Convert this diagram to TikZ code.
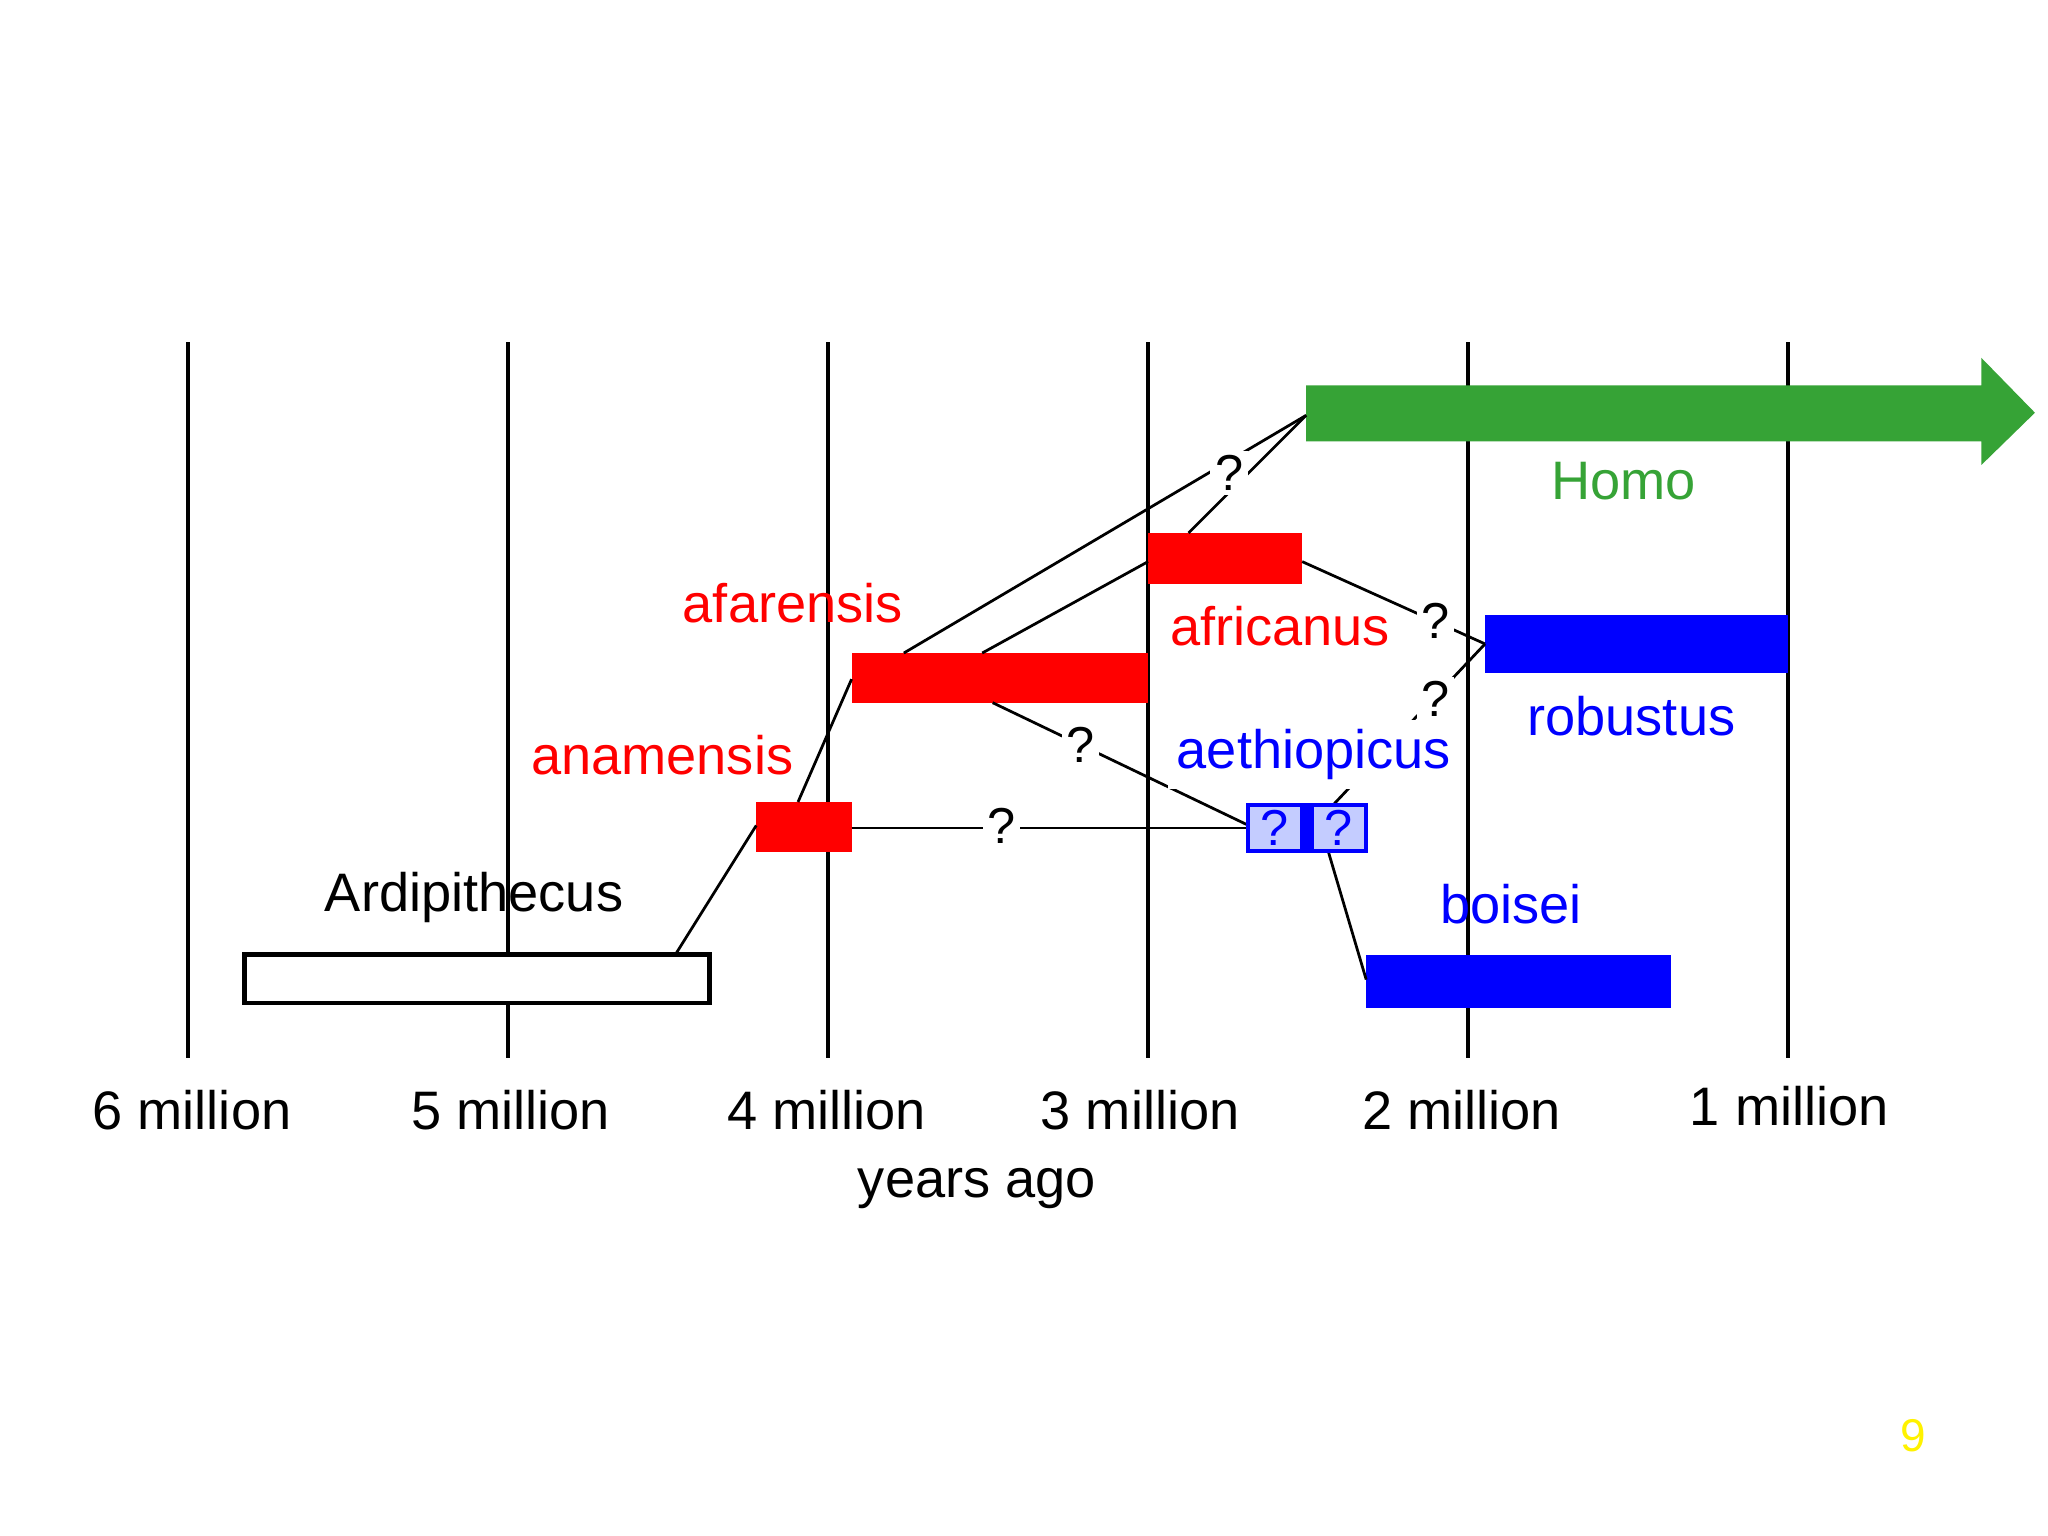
\documentclass[tikz,border=0pt]{standalone}
\usepackage{fontspec}
\setmainfont{Liberation Sans}
\definecolor{hgreen}{HTML}{36A336}
\definecolor{lblue}{HTML}{C4CCFF}
\begin{document}
\begin{tikzpicture}[x=0.01cm,y=-0.01cm,
  lab/.style={font=\fontsize{11.8}{14}\selectfont,inner sep=0pt},
  bar/.style={draw=none,inner sep=0pt,outer sep=0pt,anchor=north west},
  q/.style={font=\fontsize{11}{12}\selectfont,fill=white,inner sep=1pt},
  ln/.style={black,line width=0.6pt}]
\useasboundingbox (0,0) rectangle (1568,1176);
\fill[white] (0,0) rectangle (1568,1176);
% vertical lines
\foreach \x/\n in {144/a,389/b,634/c,879/d,1124/e,1369/f}{
  \coordinate (t\n) at (\x,262); \coordinate (b\n) at (\x,810);
  \draw[line width=1pt] (t\n) -- (b\n);}
% Homo arrow
\fill[hgreen] (1000,295) -- (1517,295) -- (1517,274) -- (1558,316) -- (1517,356) -- (1517,338) -- (1000,338) -- cycle;
\coordinate (homo) at (1000,318);
\node[lab,text=hgreen] (lhomo) at (1243,368) {Homo};
% bars
\node[bar,fill=red,minimum width=1.18cm,minimum height=0.39cm] (afri) at (879,408) {};
\node[bar,fill=red,minimum width=2.27cm,minimum height=0.38cm] (afar) at (652,500) {};
\node[bar,fill=red,minimum width=0.73cm,minimum height=0.38cm] (anam) at (579,614) {};
\node[bar,fill=blue,minimum width=2.32cm,minimum height=0.44cm] (robu) at (1137,471) {};
\node[bar,fill=blue,minimum width=2.33cm,minimum height=0.41cm] (bois) at (1046,731) {};
\node[bar,draw=black,line width=1pt,fill=white,minimum width=3.56cm,minimum height=0.37cm] (ardi) at (187,731) {};
% connectors
\coordinate (p1) at (517,731); \coordinate (p2) at (579,632);
\draw[ln] (p1) -- (p2);
\coordinate (p3) at (611,614); \coordinate (p4) at (652,520);
\draw[ln] (p3) -- (p4);
\coordinate (p5) at (692,500); \coordinate (p6) at (910,408);
\draw[ln] (p5) -- (homo);
\draw[ln] (p6) -- (homo);
\coordinate (p7) at (752,500); \coordinate (p8) at (879,430);
\draw[ln] (p7) -- (p8);
\coordinate (p9) at (997,430); \coordinate (r1) at (1137,493);
\draw[ln] (p9) -- (r1);
\coordinate (p10) at (1020,617);
\draw[ln] (p10) -- (r1);
\coordinate (p11) at (760,538); \coordinate (p12) at (956,632);
\draw[ln] (p11) -- (p12);
\coordinate (p13) at (652,634); \coordinate (p14) at (956,634);
\draw[ln] (p13) -- (p14);
\coordinate (p15) at (1017,652); \coordinate (p16) at (1046,750);
\draw[ln] (p15) -- (p16);
% aethiopicus boxes
\fill[blue] (954,615) rectangle (1047,653);
\node[bar,fill=lblue,minimum width=0.38cm,minimum height=0.32cm] (ae1) at (957,618) {};
\node[bar,fill=lblue,minimum width=0.38cm,minimum height=0.32cm] (ae2) at (1006,618) {};
\node[q,fill=none,text=blue] at (ae1.center) {?};
\node[q,fill=none,text=blue] at (ae2.center) {?};
% labels
\node[lab,text=red] at (980,479) {africanus};
\node[lab,text=red] at (607,462) {afarensis};
\node[lab,text=red] at (507,578) {anamensis};
\node[lab,text=blue] at (1249,548) {robustus};
\node[lab,text=blue,fill=white,inner sep=2pt] at (1006,578) {aethiopicus};
\node[lab,text=blue] at (1157,692) {boisei};
\node[lab] at (363,687) {Ardipithecus};
\foreach \x/\t in {147/6,391/5,633/4,873/3,1119/2}{\node[lab] at (\x,850) {\t{} million};}
\node[lab] at (1370,847) {1 million};
\node[lab] at (748,910) {years ago};
\node[font=\fontsize{10}{12}\selectfont,text=yellow] at (1465,1099) {9};
% question marks
\node[q] at (941,362) {?};
\node[q] at (1099,475) {?};
\node[q] at (1099,535) {?};
\node[q] at (827,570) {?};
\node[q] at (767,632) {?};
\end{tikzpicture}
\end{document}
